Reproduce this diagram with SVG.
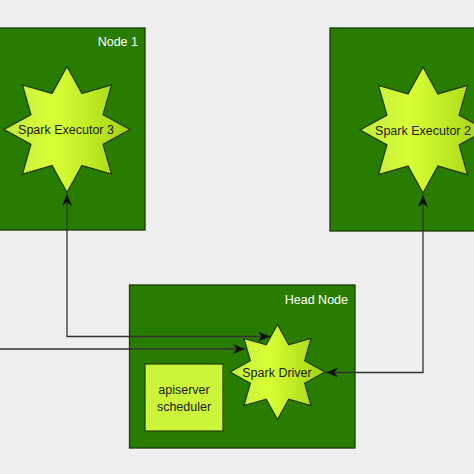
<svg xmlns="http://www.w3.org/2000/svg" xmlns:xlink="http://www.w3.org/1999/xlink" width="474" height="474" viewBox="0 0 474 474">
<style>
.box{fill:#287d00;stroke:#1b3a08;stroke-width:1.3}
.lbl{font-family:"Liberation Sans",Arial,sans-serif;font-size:12.5px;fill:#ffffff}
.txt{font-family:"Liberation Sans",Arial,sans-serif;font-size:12.5px;fill:#1a1a1a;text-anchor:middle}
.star{fill:url(#sg);stroke:#223c08;stroke-width:1.3;vector-effect:non-scaling-stroke}
.con{fill:none;stroke:#333333;stroke-width:1.3}
</style>
<defs>
<linearGradient id="sg" x1="0" y1="0" x2="1" y2="0">
<stop offset="0" stop-color="#c2ea3e"/>
<stop offset="0.4" stop-color="#d8ff35"/>
<stop offset="1" stop-color="#a2d212"/>
</linearGradient>
<polygon id="star8" class="star" points="0,-100 23.7,-57.3 70.7,-70.7 57.3,-23.7 100,0 57.3,23.7 70.7,70.7 23.7,57.3 0,100 -23.7,57.3 -70.7,70.7 -57.3,23.7 -100,0 -57.3,-23.7 -70.7,-70.7 -23.7,-57.3"/>
<marker id="arr" markerUnits="userSpaceOnUse" markerWidth="13" markerHeight="11" refX="12" refY="5" orient="auto-start-reverse" viewBox="0 0 13 11">
<path d="M0,0 L12,5 L0,10 L3.5,5 z" fill="#111111"/>
</marker>
</defs>
<rect x="0" y="0" width="474" height="474" fill="#efefef"/>
<g id="node1">
<rect class="box" x="-5" y="28" width="150" height="202"/>
<text class="lbl" x="138" y="46" text-anchor="end">Node 1</text>
</g>
<g id="node2">
<rect class="box" x="330" y="28" width="148" height="203"/>
</g>
<g id="headnode">
<rect class="box" x="129.5" y="285" width="225.5" height="163"/>
<text class="lbl" x="348" y="304" text-anchor="end">Head Node</text>
</g>
<g id="executor3">
<use xlink:href="#star8" transform="translate(67 129.5) scale(0.63)"/>
<text class="txt" x="66" y="134">Spark Executor 3</text>
</g>
<g id="executor2">
<use xlink:href="#star8" transform="translate(423 130) scale(0.63)"/>
<text class="txt" x="423" y="134.5">Spark Executor 2</text>
</g>
<g id="apiserver">
<rect x="145" y="364" width="78" height="67" fill="#ccf53a" stroke="#223c08" stroke-width="1.2"/>
<text class="txt" x="184" y="394">apiserver</text>
<text class="txt" x="184" y="411">scheduler</text>
</g>
<g id="driver">
<use xlink:href="#star8" transform="translate(277.5 372) scale(0.475)"/>
<text class="txt" x="277" y="377">Spark Driver</text>
</g>
<g id="connectors">
<path class="con" d="M0,349 H245" marker-end="url(#arr)"/>
<path class="con" d="M67,194 V336.5 H270" marker-start="url(#arr)" marker-end="url(#arr)"/>
<path class="con" d="M326,372.5 H423 V195" marker-start="url(#arr)" marker-end="url(#arr)"/>
</g>
</svg>
